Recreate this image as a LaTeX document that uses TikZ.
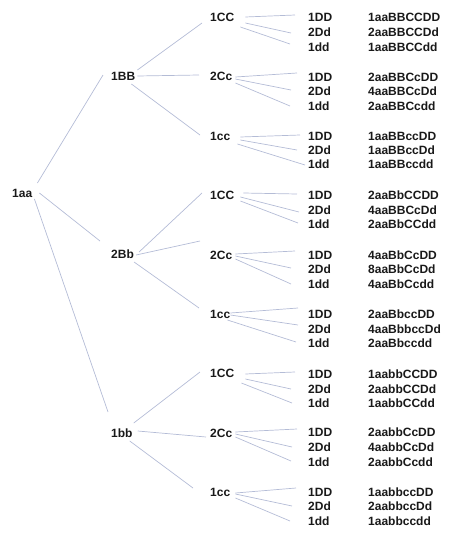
\documentclass[tikz,border=0pt]{standalone}
\usepackage{fontspec}
\setmainfont{Liberation Sans}
\begin{document}
\begin{tikzpicture}[x=1pt,y=-1pt,
  lbl/.style={anchor=west,inner sep=0pt,font=\bfseries\fontsize{12}{14}\selectfont,text=black!90,text height=8.6pt,text depth=0pt},
  edge/.style={draw=edgecol,line width=0.7pt}]
\definecolor{edgecol}{HTML}{B4BCD6}
\useasboundingbox (0,0) rectangle (450,538);
% level 1
\node[lbl] (a) at (12,193) {1aa};
% level 2
\node[lbl] (b1) at (111,76) {1BB};
\node[lbl] (b2) at (111,254) {2Bb};
\node[lbl] (b3) at (111,433) {1bb};
% level 3
\node[lbl] (c11) at (210,17) {1CC};
\node[lbl] (c12) at (210,76) {2Cc};
\node[lbl] (c13) at (210,136) {1cc};
\node[lbl] (c21) at (210,195) {1CC};
\node[lbl] (c22) at (210,255) {2Cc};
\node[lbl] (c23) at (210,314) {1cc};
\node[lbl] (c31) at (210,373) {1CC};
\node[lbl] (c32) at (210,433) {2Cc};
\node[lbl] (c33) at (210,492) {1cc};
% level 4 and results
\newcommand{\leafrow}[4]{%
  \node[lbl] (d#1) at (308,#2) {#3};
  \node[lbl] (r#1) at (368,#2) {#4};}
\leafrow{111}{17}{1DD}{1aaBBCCDD}
\leafrow{112}{32}{2Dd}{2aaBBCCDd}
\leafrow{113}{47}{1dd}{1aaBBCCdd}
\leafrow{121}{77}{1DD}{2aaBBCcDD}
\leafrow{122}{91}{2Dd}{4aaBBCcDd}
\leafrow{123}{106}{1dd}{2aaBBCcdd}
\leafrow{131}{136}{1DD}{1aaBBccDD}
\leafrow{132}{150}{2Dd}{1aaBBccDd}
\leafrow{133}{164}{1dd}{1aaBBccdd}
\leafrow{211}{195}{1DD}{2aaBbCCDD}
\leafrow{212}{210}{2Dd}{4aaBBCcDd}
\leafrow{213}{224}{1dd}{2aaBbCCdd}
\leafrow{221}{255}{1DD}{4aaBbCcDD}
\leafrow{222}{269}{2Dd}{8aaBbCcDd}
\leafrow{223}{284}{1dd}{4aaBbCcdd}
\leafrow{231}{314}{1DD}{2aaBbccDD}
\leafrow{232}{329}{2Dd}{4aaBbbccDd}
\leafrow{233}{343}{1dd}{2aaBbccdd}
\leafrow{311}{374}{1DD}{1aabbCCDD}
\leafrow{312}{389}{2Dd}{2aabbCCDd}
\leafrow{313}{403}{1dd}{1aabbCCdd}
\leafrow{321}{432}{1DD}{2aabbCcDD}
\leafrow{322}{447}{2Dd}{4aabbCcDd}
\leafrow{323}{462}{1dd}{2aabbCcdd}
\leafrow{331}{492}{1DD}{1aabbccDD}
\leafrow{332}{506}{2Dd}{2aabbccDd}
\leafrow{333}{521}{1dd}{1aabbccdd}
% edges
\newcommand{\edgeline}[6]{%
  \draw[edge] ([shift={(#2)}]#1.east) -- ([shift={(#4)}]#3.west);}
\edgeline{a}{5,-10}{b1}{-8,-1}{}{}
\edgeline{a}{7,0}{b2}{-11,-13}{}{}
\edgeline{a}{2,6}{b3}{-3,-21}{}{}
\edgeline{b1}{2,-6}{c11}{-8,6}{}{}
\edgeline{b1}{2,0}{c12}{-11,-1}{}{}
\edgeline{b1}{-4,8}{c13}{-10,-1}{}{}
\edgeline{b2}{5,-2}{c21}{-8,-2}{}{}
\edgeline{b2}{2,1}{c22}{-10,-14}{}{}
\edgeline{b2}{0,8}{c23}{-11,-6}{}{}
\edgeline{b3}{1,-10}{c31}{-10,-1}{}{}
\edgeline{b3}{5,-2}{c32}{-4,4}{}{}
\edgeline{b3}{-3,8}{c33}{-17,-4}{}{}
% level 3 to 4
\edgeline{c11}{11,0}{d111}{-13,-2}{}{}
\edgeline{c11}{11,6}{d112}{-17,1}{}{}
\edgeline{c11}{6,10}{d113}{-18,-3}{}{}
\edgeline{c12}{3,1}{d121}{-11,-4}{}{}
\edgeline{c12}{3,3}{d122}{-17,-1}{}{}
\edgeline{c12}{3,7}{d123}{-18,0}{}{}
\edgeline{c13}{10,1}{d131}{-8,-1}{}{}
\edgeline{c13}{10,4}{d132}{-11,0}{}{}
\edgeline{c13}{7,8}{d133}{-3,1}{}{}
\edgeline{c21}{9,-2}{d211}{-11,-1}{}{}
\edgeline{c21}{6,2}{d212}{-9,2}{}{}
\edgeline{c21}{6,6}{d213}{-10,-1}{}{}
\edgeline{c22}{3,-1}{d221}{-13,-4}{}{}
\edgeline{c22}{3,1}{d222}{-17,-1}{}{}
\edgeline{c22}{3,4}{d223}{-17,0}{}{}
\edgeline{c23}{0,-1}{d231}{-10,-6}{}{}
\edgeline{c23}{0,1}{d232}{-10,-4}{}{}
\edgeline{c23}{-3,6}{d233}{-12,-1}{}{}
\edgeline{c31}{11,1}{d311}{-13,-2}{}{}
\edgeline{c31}{11,6}{d312}{-17,0}{}{}
\edgeline{c31}{7,10}{d313}{-16,0}{}{}
\edgeline{c32}{3,-1}{d321}{-11,-3}{}{}
\edgeline{c32}{3,1}{d322}{-16,0}{}{}
\edgeline{c32}{3,4}{d323}{-17,-1}{}{}
\edgeline{c33}{5,1}{d331}{-12,-4}{}{}
\edgeline{c33}{5,2}{d332}{-16,0}{}{}
\edgeline{c33}{5,6}{d333}{-18,0}{}{}
\end{tikzpicture}
\end{document}
